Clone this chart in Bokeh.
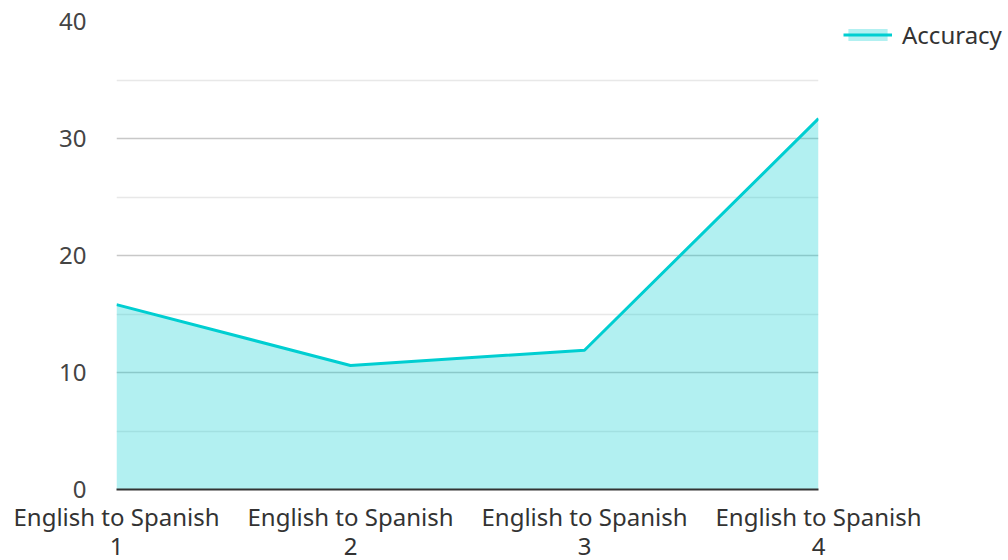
from bokeh.plotting import figure
from bokeh.models import Range1d, Legend, LegendItem, FixedTicker
from bokeh.embed import file_html
from bokeh.resources import INLINE

categories = ["English to Spanish\n1", "English to Spanish\n2", "English to Spanish\n3", "English to Spanish\n4"]
accuracy = [15.8, 10.6, 11.9, 31.7]
y_ticks = [0, 10, 20, 30, 40]
y_minor = [5, 15, 25, 35]

xs = list(range(len(categories)))
FONT = "Noto Sans"
COLOR = "#00CED1"

p = figure(frame_width=702, frame_height=468, output_backend="svg", toolbar_location=None,
           x_range=Range1d(0, len(categories) - 1), y_range=Range1d(0, 40),
           min_border_left=116, min_border_right=190, min_border_top=21, min_border_bottom=70)
p.outline_line_color = None
p.background_fill_color = "white"

area = p.varea(x=xs, y1=[0] * len(xs), y2=accuracy, fill_color=COLOR, fill_alpha=0.3)
ln = p.line(x=xs, y=accuracy, line_color=COLOR, line_width=3)

# axes
p.xaxis.ticker = FixedTicker(ticks=xs)
p.xaxis.major_label_overrides = {i: c for i, c in enumerate(categories)}
p.xaxis.axis_line_color = "#333333"
p.xaxis.axis_line_width = 2
p.xaxis.major_tick_line_color = None
p.xaxis.minor_tick_line_color = None
p.xaxis.major_tick_out = 0
p.xaxis.major_label_standoff = 10
p.xaxis.major_label_text_font = FONT
p.xaxis.major_label_text_font_size = "24px"
p.xaxis.major_label_text_line_height = 0.88
p.xaxis.major_label_text_color = "#333333"

p.yaxis.ticker = FixedTicker(ticks=y_ticks, minor_ticks=y_minor)
p.yaxis.axis_line_color = None
p.yaxis.major_tick_line_color = None
p.yaxis.minor_tick_line_color = None
p.yaxis.major_tick_out = 0
p.yaxis.major_label_standoff = 26
p.yaxis.major_label_text_font = FONT
p.yaxis.major_label_text_font_size = "24px"
p.yaxis.major_label_text_color = "#444444"

p.xgrid.grid_line_color = None
p.ygrid.grid_line_color = "#c8c8c8"
p.ygrid.grid_line_width = 1.3
p.ygrid.minor_grid_line_color = "#e8e8e8"
p.ygrid.minor_grid_line_width = 1.3

legend = Legend(items=[LegendItem(label="Accuracy", renderers=[area, ln])],
                location=(25, 438), border_line_color=None, background_fill_alpha=0,
                glyph_width=49, glyph_height=15, label_text_font=FONT,
                label_text_font_size="24px", label_text_color="#333333",
                padding=0, margin=0, label_standoff=10)
p.add_layout(legend, "right")

open("out.html", "w").write(file_html(p, INLINE))
